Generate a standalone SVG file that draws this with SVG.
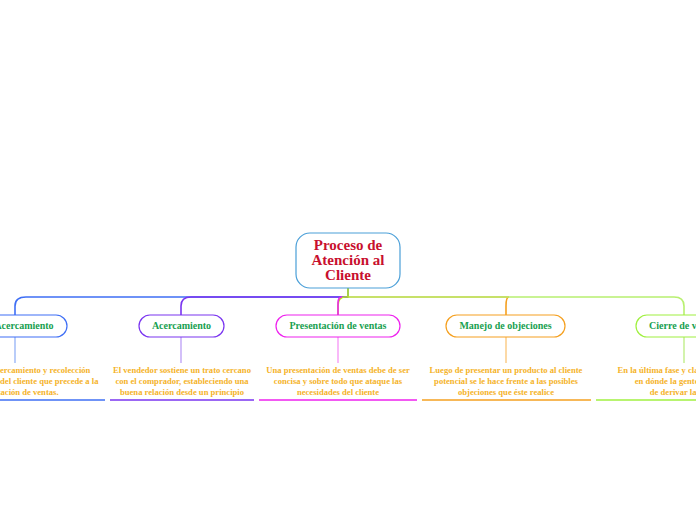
<svg xmlns="http://www.w3.org/2000/svg" width="696" height="520" viewBox="0 0 696 520">
<style>
.lbl{font-family:"Liberation Serif",serif;font-weight:bold;font-size:10px;fill:#17a050;text-anchor:middle}
.desc{font-family:"Liberation Serif",serif;font-weight:bold;font-size:8.6px;fill:#f5b32a;text-anchor:middle}
.root{font-family:"Liberation Serif",serif;font-weight:bold;font-size:15px;fill:#c8102e;text-anchor:middle}
path,line{fill:none}
</style>
<rect width="696" height="520" fill="#fff"/>
<g id="connectors" stroke-width="1.6">
<path d="M348,288 V297 H26 Q15,297 15,306 V315" stroke="#3f6ff5"/>
<path d="M348,297 H191 Q181,297 181,306 V315" stroke="#7a35f0"/>
<path d="M348,297 H509 Q506,297 506,306 V315" stroke="#f5a020"/>
<path d="M348,297 H674 Q684,297 684,306 V315" stroke="#b8f070"/>
<path d="M348,288 V297 H345 Q338,297 338,306 V315" stroke="#b8e020"/>
<path d="M342,297 Q338,297 338,303 V315" stroke="#ee22ee"/>
<line x1="15" y1="337" x2="15" y2="363" stroke="#a8c0f8"/>
<line x1="181" y1="337" x2="181" y2="363" stroke="#c8b0f8"/>
<line x1="338" y1="337" x2="338" y2="363" stroke="#f8a8f8"/>
<line x1="506" y1="337" x2="506" y2="363" stroke="#fcd090"/>
<line x1="684" y1="337" x2="684" y2="363" stroke="#c8f098"/>
</g>
<g id="root"><rect x="296" y="233" width="104" height="55" rx="14" fill="#fff" stroke="#4a9fd8" stroke-width="1.2"/>
<text class="root" x="348" y="250">Proceso de</text><text class="root" x="348" y="265">Atención al</text><text class="root" x="348" y="280">Cliente</text></g>
<g id="n1"><rect x="-30" y="315" width="97" height="22" rx="11" fill="#fff" stroke="#3f6ff5" stroke-width="1.2"/><text class="lbl" x="24" y="329">Acercamiento</text>
<text class="desc" x="36" y="373">El acercamiento y recolección</text><text class="desc" x="33" y="384">de datos del cliente que precede a la</text><text class="desc" x="16" y="395">presentación de ventas.</text>
<line x1="-10" y1="400" x2="105" y2="400" stroke="#3f6ff5" stroke-width="1.6"/></g>
<g id="n2"><rect x="139" y="315" width="85" height="22" rx="11" fill="#fff" stroke="#7a35f0" stroke-width="1.2"/><text class="lbl" x="181.5" y="329">Acercamiento</text>
<text class="desc" x="182" y="373">El vendedor sostiene un trato cercano</text><text class="desc" x="182" y="384">con el comprador, estableciendo una</text><text class="desc" x="182" y="395">buena relación desde un principio</text>
<line x1="110" y1="400" x2="254" y2="400" stroke="#7a35f0" stroke-width="1.6"/></g>
<g id="n3"><rect x="276" y="315" width="124" height="22" rx="11" fill="#fff" stroke="#ee22ee" stroke-width="1.2"/><text class="lbl" x="338" y="329">Presentación de ventas</text>
<text class="desc" x="338" y="373">Una presentación de ventas debe de ser</text><text class="desc" x="338" y="384">concisa y sobre todo que ataque las</text><text class="desc" x="338" y="395">necesidades del cliente</text>
<line x1="259" y1="400" x2="417" y2="400" stroke="#ee22ee" stroke-width="1.6"/></g>
<g id="n4"><rect x="446" y="315" width="119" height="22" rx="11" fill="#fff" stroke="#f5a020" stroke-width="1.2"/><text class="lbl" x="505.5" y="329">Manejo de objeciones</text>
<text class="desc" x="506" y="373">Luego de presentar un producto al cliente</text><text class="desc" x="506" y="384">potencial se le hace frente a las posibles</text><text class="desc" x="506" y="395">objeciones que éste realice</text>
<line x1="422" y1="400" x2="591" y2="400" stroke="#f5a020" stroke-width="1.6"/></g>
<g id="n5"><rect x="636" y="315" width="104" height="22" rx="11" fill="#fff" stroke="#a0f040" stroke-width="1.2"/><text class="lbl" x="684" y="329">Cierre de ventas</text>
<text class="desc" x="684" y="373">En la última fase y clave de la venta,</text><text class="desc" x="684" y="384">en dónde la gente se decide</text><text class="desc" x="684" y="395">de derivar la visita</text>
<line x1="596" y1="400" x2="700" y2="400" stroke="#a0f040" stroke-width="1.6"/></g>
</svg>
